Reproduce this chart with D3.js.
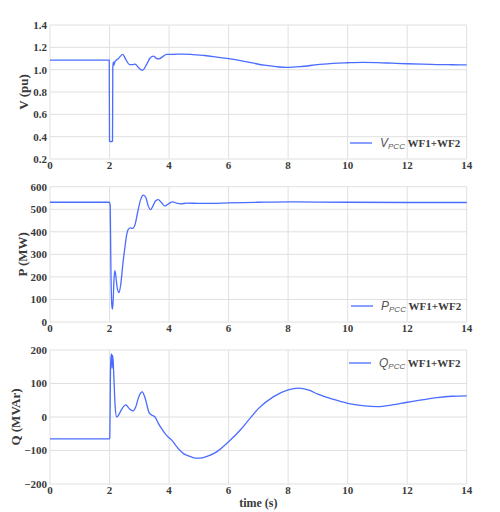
<!DOCTYPE html>
<html><head><meta charset="utf-8">
<script src="https://cdn.jsdelivr.net/npm/d3@7"></script>
<style>body{margin:0;background:#fff}svg{display:block}</style>
</head><body>
<svg id="c" width="500" height="512"></svg>
<script>
// ---- data ----
const xTicks = [0, 2, 4, 6, 8, 10, 12, 14];

const vTicks = [0.2, 0.4, 0.6, 0.8, 1.0, 1.2, 1.4];
const vTime = [0,1.99,2.0,2.05,2.1,2.11,2.13,2.15,2.18,2.3,2.44,2.55,2.67,2.76,2.86,2.97,3.11,3.25,3.35,3.47,3.58,3.66,3.78,3.92,4.1,4.4,4.8,5.2,5.6,6.0,6.4,6.8,7.2,7.6,7.95,8.4,9.0,9.5,10.0,10.5,11.0,11.5,12.0,12.5,13.0,13.5,14.0];
const vValues = [1.085,1.085,0.36,0.355,0.36,1.02,1.07,1.04,1.07,1.10,1.137,1.09,1.045,1.045,1.05,1.02,0.995,1.05,1.10,1.122,1.10,1.097,1.115,1.137,1.137,1.14,1.135,1.127,1.113,1.098,1.08,1.06,1.04,1.027,1.021,1.027,1.045,1.057,1.062,1.065,1.063,1.058,1.053,1.049,1.046,1.044,1.043];

const pTicks = [0, 100, 200, 300, 400, 500, 600];
const pTime = [0,1.99,2.02,2.05,2.08,2.1,2.12,2.15,2.18,2.21,2.26,2.32,2.38,2.45,2.52,2.58,2.63,2.7,2.77,2.86,2.95,3.05,3.14,3.22,3.3,3.38,3.46,3.55,3.64,3.74,3.86,3.98,4.12,4.25,4.4,4.6,5.0,6.0,7.0,8.0,9.0,10.0,12.0,14.0];
const pValues = [531,531,520,200,70,57,90,190,228,205,150,130,170,260,334,390,411,417,415,433,490,545,563,552,515,498,515,538,543,530,514,524,533,527,524,527,526,528,531,533,532,531,530,530];

const qTicks = [-200, -100, 0, 100, 200];
const qTime = [0,1.995,2.01,2.03,2.05,2.07,2.085,2.1,2.12,2.15,2.19,2.24,2.3,2.4,2.55,2.66,2.78,2.88,2.98,3.1,3.2,3.33,3.43,3.53,3.64,3.75,3.86,4.0,4.09,4.2,4.37,4.5,4.65,4.8,4.98,5.15,5.32,5.6,6.0,6.4,6.72,7.0,7.5,8.0,8.34,8.7,9.0,9.5,10.0,10.5,11.0,11.5,12.0,12.5,13.0,13.5,14.0];
const qValues = [-65,-65,-60,120,180,188,145,185,170,110,30,0,5,22,36,25,18,30,60,75,55,13,5,0,-19,-35,-49,-62,-69,-82,-100,-110,-116,-121,-123,-121,-116,-104,-74,-38,-4,25,60,81,86,80,68,53,41,34,31,36,44,51,58,62,63];

const panels = [
  {time: vTime, values: vValues, ticks: vTicks, dom: [0.2, 1.4], label: "V (pu)", sym: "V", top: 25, bottom: 159, fmt: d3.format(".1f"), labX: 23, leg: {x: 350, y: 143}},
  {time: pTime, values: pValues, ticks: pTicks, dom: [0, 600], label: "P (MW)", sym: "P", top: 186.7, bottom: 322, fmt: d3.format("d"), labX: 22, leg: {x: 351, y: 306}},
  {time: qTime, values: qValues, ticks: qTicks, dom: [-200, 200], label: "Q (MVAr)", sym: "Q", top: 350, bottom: 484, fmt: d3.format("d"), labX: 15, leg: {x: 349, y: 363}}
];

const svg = d3.select("#c");
const L = 50, R = 466.7;
const x = d3.scaleLinear().domain([0, 14]).range([L, R]);
const lineColor = "#4a6cff";
const gridColor = "#e0e0e0";
const textColor = "#3a3a3a";
const serif = "'Liberation Serif','Times New Roman',serif";
const sans = "'Liberation Sans',Arial,sans-serif";

panels.forEach(p => {
  const y = d3.scaleLinear().domain(p.dom).range([p.bottom, p.top]);
  const g = svg.append("g");
  // grid
  g.selectAll("line.h").data(p.ticks).join("line")
    .attr("x1", L).attr("x2", R).attr("y1", d => y(d)).attr("y2", d => y(d))
    .attr("stroke", gridColor).attr("stroke-width", 1);
  g.selectAll("line.v").data(xTicks).join("line")
    .attr("x1", d => x(d)).attr("x2", d => x(d)).attr("y1", p.top).attr("y2", p.bottom)
    .attr("stroke", gridColor).attr("stroke-width", 1);
  // y tick labels
  g.selectAll("text.yt").data(p.ticks).join("text")
    .attr("x", L - 3).attr("y", d => y(d)).attr("dy", "0.35em")
    .attr("text-anchor", "end").attr("font-family", serif).attr("font-weight", "bold")
    .attr("font-size", 11).attr("fill", textColor).text(d => p.fmt(d));
  // x tick labels
  g.selectAll("text.xt").data(xTicks).join("text")
    .attr("x", d => x(d)).attr("y", p.bottom + 10)
    .attr("text-anchor", "middle").attr("font-family", serif).attr("font-weight", "bold")
    .attr("font-size", 11).attr("fill", textColor).text(d => d);
  // y label
  g.append("text")
    .attr("transform", `translate(${p.labX},${(p.top + p.bottom) / 2}) rotate(-90)`)
    .attr("text-anchor", "middle").attr("dy", "0.35em")
    .attr("font-family", serif).attr("font-weight", "bold").attr("font-size", 13)
    .attr("fill", textColor).text(p.label);
  // line
  const data = p.time.map((t, i) => [t, p.values[i]]);
  g.append("path").datum(data)
    .attr("fill", "none").attr("stroke", lineColor).attr("stroke-width", 1.3)
    .attr("stroke-linejoin", "round")
    .attr("d", d3.line().x(d => x(d[0])).y(d => y(d[1])).curve(d3.curveMonotoneX));
  // legend
  g.append("line").attr("x1", p.leg.x).attr("x2", p.leg.x + 22)
    .attr("y1", p.leg.y).attr("y2", p.leg.y).attr("stroke", lineColor).attr("stroke-width", 1.3);
  const t = g.append("text").attr("x", p.leg.x + 30).attr("y", p.leg.y + 4).attr("fill", textColor);
  t.append("tspan").attr("font-family", sans).attr("font-style", "italic").attr("font-size", 12)
    .attr("fill", "#555").text(p.sym);
  t.append("tspan").attr("font-family", sans).attr("font-style", "italic").attr("font-size", 8)
    .attr("fill", "#555").attr("dy", 2).text("PCC");
  t.append("tspan").attr("font-family", serif).attr("font-weight", "bold").attr("font-size", 11)
    .attr("dy", -2).text(" WF1+WF2");
});

svg.append("text").attr("x", (L + R) / 2).attr("y", 507)
  .attr("text-anchor", "middle").attr("font-family", serif).attr("font-weight", "bold")
  .attr("font-size", 12).attr("fill", textColor).text("time (s)");
</script>
</body></html>
